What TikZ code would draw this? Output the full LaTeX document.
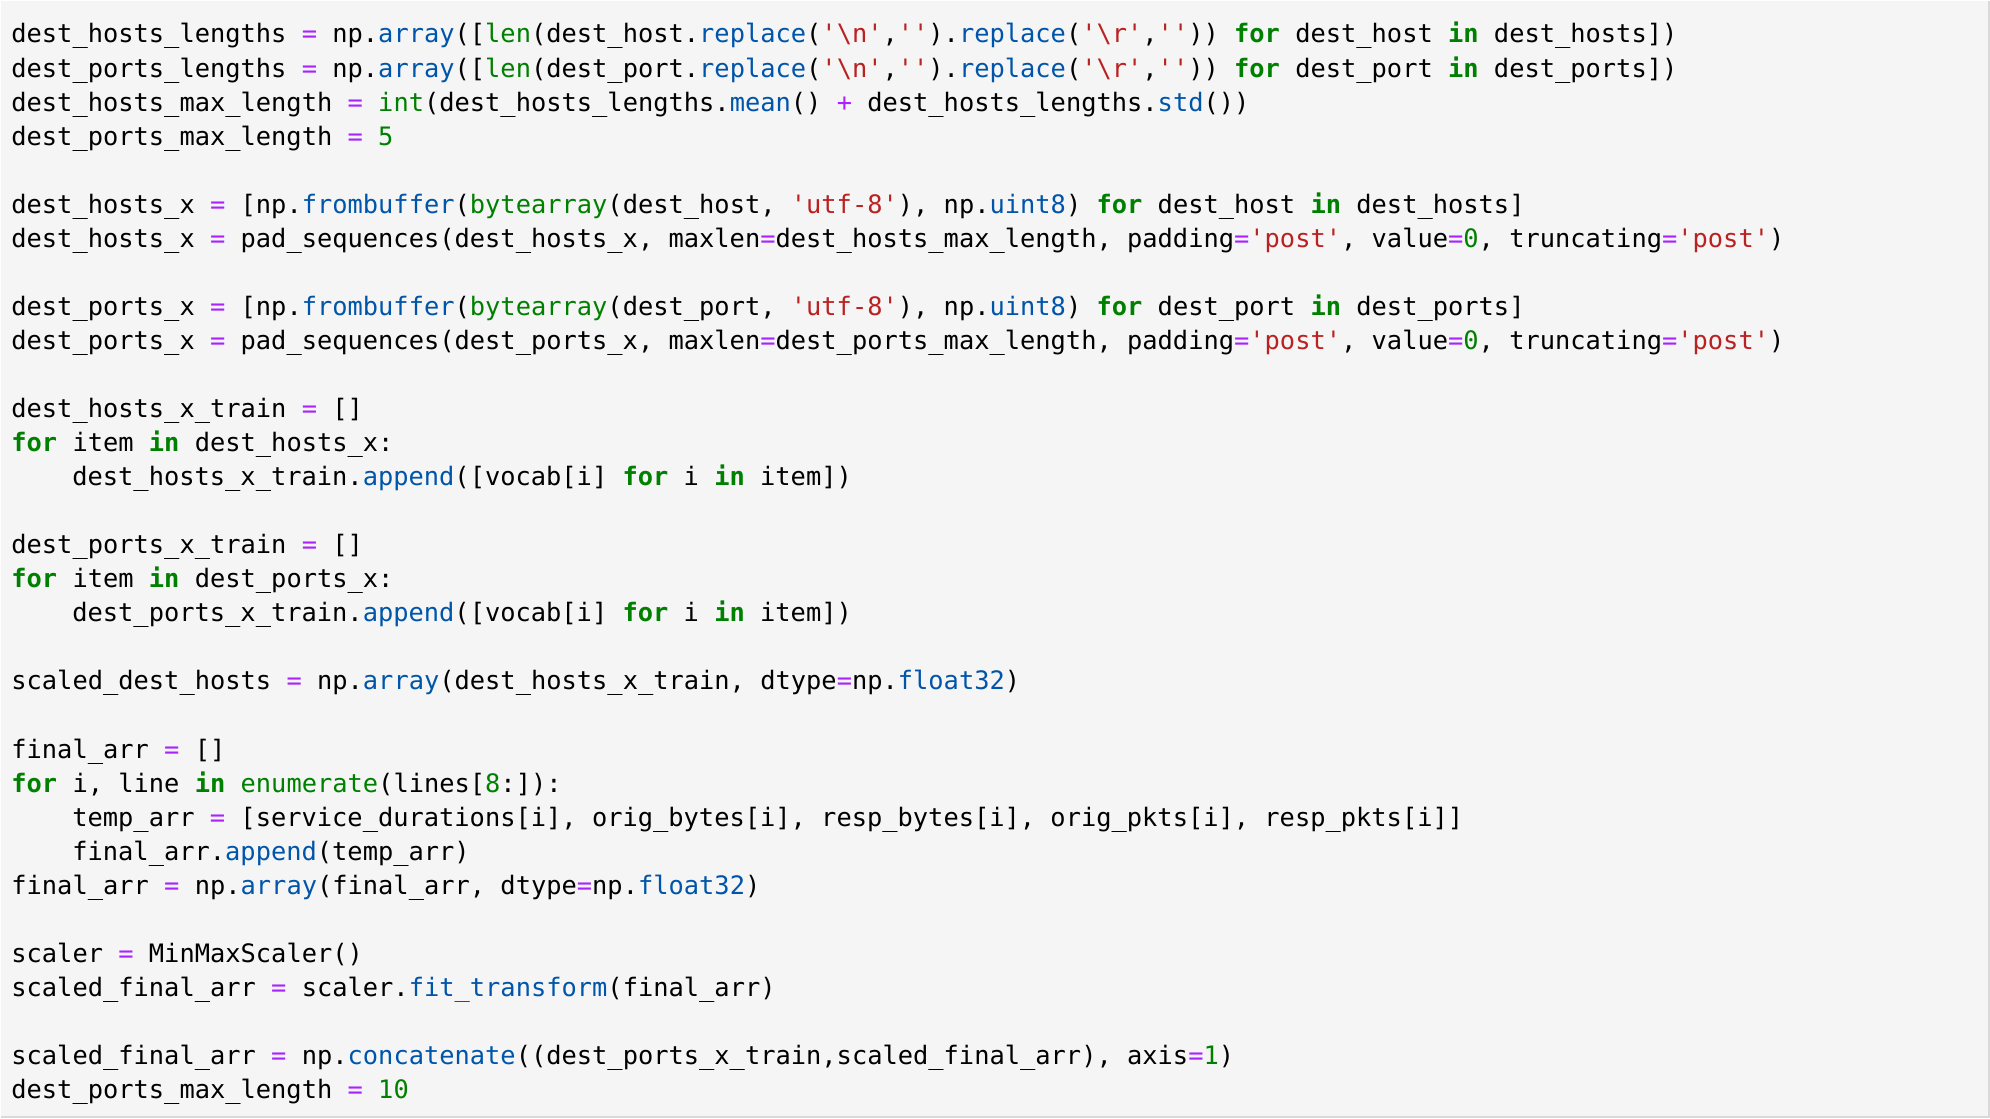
\documentclass[tikz,border=0pt]{standalone}
\usepackage{fontspec}
\setmonofont{DejaVu Sans Mono}
\usepackage{xcolor}
\usetikzlibrary{positioning}

\definecolor{bgcode}{HTML}{F5F5F5}
\definecolor{kwgreen}{HTML}{008000}
\definecolor{attrblue}{HTML}{0055AA}
\definecolor{strred}{HTML}{BA2121}
\definecolor{oppurple}{HTML}{AA22FF}

\newcommand\kw[1]{\textcolor{kwgreen}{\textbf{#1}}}
\newcommand\bi[1]{\textcolor{kwgreen}{#1}}
\newcommand\at[1]{\textcolor{attrblue}{#1}}
\newcommand\st[1]{\textcolor{strred}{#1}}
\newcommand\nm[1]{\textcolor{kwgreen}{#1}}
\newcommand\op[1]{\textcolor{oppurple}{#1}}
\newcommand\bs{\textbackslash}

\begin{document}
\begin{tikzpicture}[
    x=0.5pt, y=-0.5pt,
    code/.style={anchor=base west, inner sep=0pt, font=\ttfamily\fontsize{12.7}{15}\selectfont}
]

% Background
\fill[bgcode] (0,0) rectangle (1990,1118);
\draw[black!15, line width=1pt] (1989,0) -- (1989,1117) -- (0,1117);

% Lines (index n at y = 42 + 34.07 n)
\node[code] (l0) at (10,42) {dest\_hosts\_lengths \op{=} np.\at{array}([\bi{len}(dest\_host.\at{replace}(\st{'\bs n'},\st{''}).\at{replace}(\st{'\bs r'},\st{''})) \kw{for} dest\_host \kw{in} dest\_hosts])};
\node[code] (l1) at (10,{42+34.07*1}) {dest\_ports\_lengths \op{=} np.\at{array}([\bi{len}(dest\_port.\at{replace}(\st{'\bs n'},\st{''}).\at{replace}(\st{'\bs r'},\st{''})) \kw{for} dest\_port \kw{in} dest\_ports])};
\node[code] (l2) at (10,{42+34.07*2}) {dest\_hosts\_max\_length \op{=} \bi{int}(dest\_hosts\_lengths.\at{mean}() \op{+} dest\_hosts\_lengths.\at{std}())};
\node[code] (l3) at (10,{42+34.07*3}) {dest\_ports\_max\_length \op{=} \nm{5}};

\node[code] (l5) at (10,{42+34.07*5}) {dest\_hosts\_x \op{=} [np.\at{frombuffer}(\bi{bytearray}(dest\_host, \st{'utf-8'}), np.\at{uint8}) \kw{for} dest\_host \kw{in} dest\_hosts]};
\node[code] (l6) at (10,{42+34.07*6}) {dest\_hosts\_x \op{=} pad\_sequences(dest\_hosts\_x, maxlen\op{=}dest\_hosts\_max\_length, padding\op{=}\st{'post'}, value\op{=}\nm{0}, truncating\op{=}\st{'post'})};

\node[code] (l8) at (10,{42+34.07*8}) {dest\_ports\_x \op{=} [np.\at{frombuffer}(\bi{bytearray}(dest\_port, \st{'utf-8'}), np.\at{uint8}) \kw{for} dest\_port \kw{in} dest\_ports]};
\node[code] (l9) at (10,{42+34.07*9}) {dest\_ports\_x \op{=} pad\_sequences(dest\_ports\_x, maxlen\op{=}dest\_ports\_max\_length, padding\op{=}\st{'post'}, value\op{=}\nm{0}, truncating\op{=}\st{'post'})};

\node[code] (l11) at (10,{42+34.07*11}) {dest\_hosts\_x\_train \op{=} []};
\node[code] (l12) at (10,{42+34.07*12}) {\kw{for} item \kw{in} dest\_hosts\_x:};
\node[code] (l13) at (71,{42+34.07*13}) {dest\_hosts\_x\_train.\at{append}([vocab[i] \kw{for} i \kw{in} item])};

\node[code] (l15) at (10,{42+34.07*15}) {dest\_ports\_x\_train \op{=} []};
\node[code] (l16) at (10,{42+34.07*16}) {\kw{for} item \kw{in} dest\_ports\_x:};
\node[code] (l17) at (71,{42+34.07*17}) {dest\_ports\_x\_train.\at{append}([vocab[i] \kw{for} i \kw{in} item])};

\node[code] (l19) at (10,{42+34.07*19}) {scaled\_dest\_hosts \op{=} np.\at{array}(dest\_hosts\_x\_train, dtype\op{=}np.\at{float32})};

\node[code] (l21) at (10,{42+34.07*21}) {final\_arr \op{=} []};
\node[code] (l22) at (10,{42+34.07*22}) {\kw{for} i, line \kw{in} \bi{enumerate}(lines[\nm{8}:]):};
\node[code] (l23) at (71,{42+34.07*23}) {temp\_arr \op{=} [service\_durations[i], orig\_bytes[i], resp\_bytes[i], orig\_pkts[i], resp\_pkts[i]]};
\node[code] (l24) at (71,{42+34.07*24}) {final\_arr.\at{append}(temp\_arr)};
\node[code] (l25) at (10,{42+34.07*25}) {final\_arr \op{=} np.\at{array}(final\_arr, dtype\op{=}np.\at{float32})};

\node[code] (l27) at (10,{42+34.07*27}) {scaler \op{=} MinMaxScaler()};
\node[code] (l28) at (10,{42+34.07*28}) {scaled\_final\_arr \op{=} scaler.\at{fit\_transform}(final\_arr)};

\node[code] (l30) at (10,{42+34.07*30}) {scaled\_final\_arr \op{=} np.\at{concatenate}((dest\_ports\_x\_train,scaled\_final\_arr), axis\op{=}\nm{1})};
\node[code] (l31) at (10,{42+34.07*31}) {dest\_ports\_max\_length \op{=} \nm{10}};

\end{tikzpicture}
\end{document}
